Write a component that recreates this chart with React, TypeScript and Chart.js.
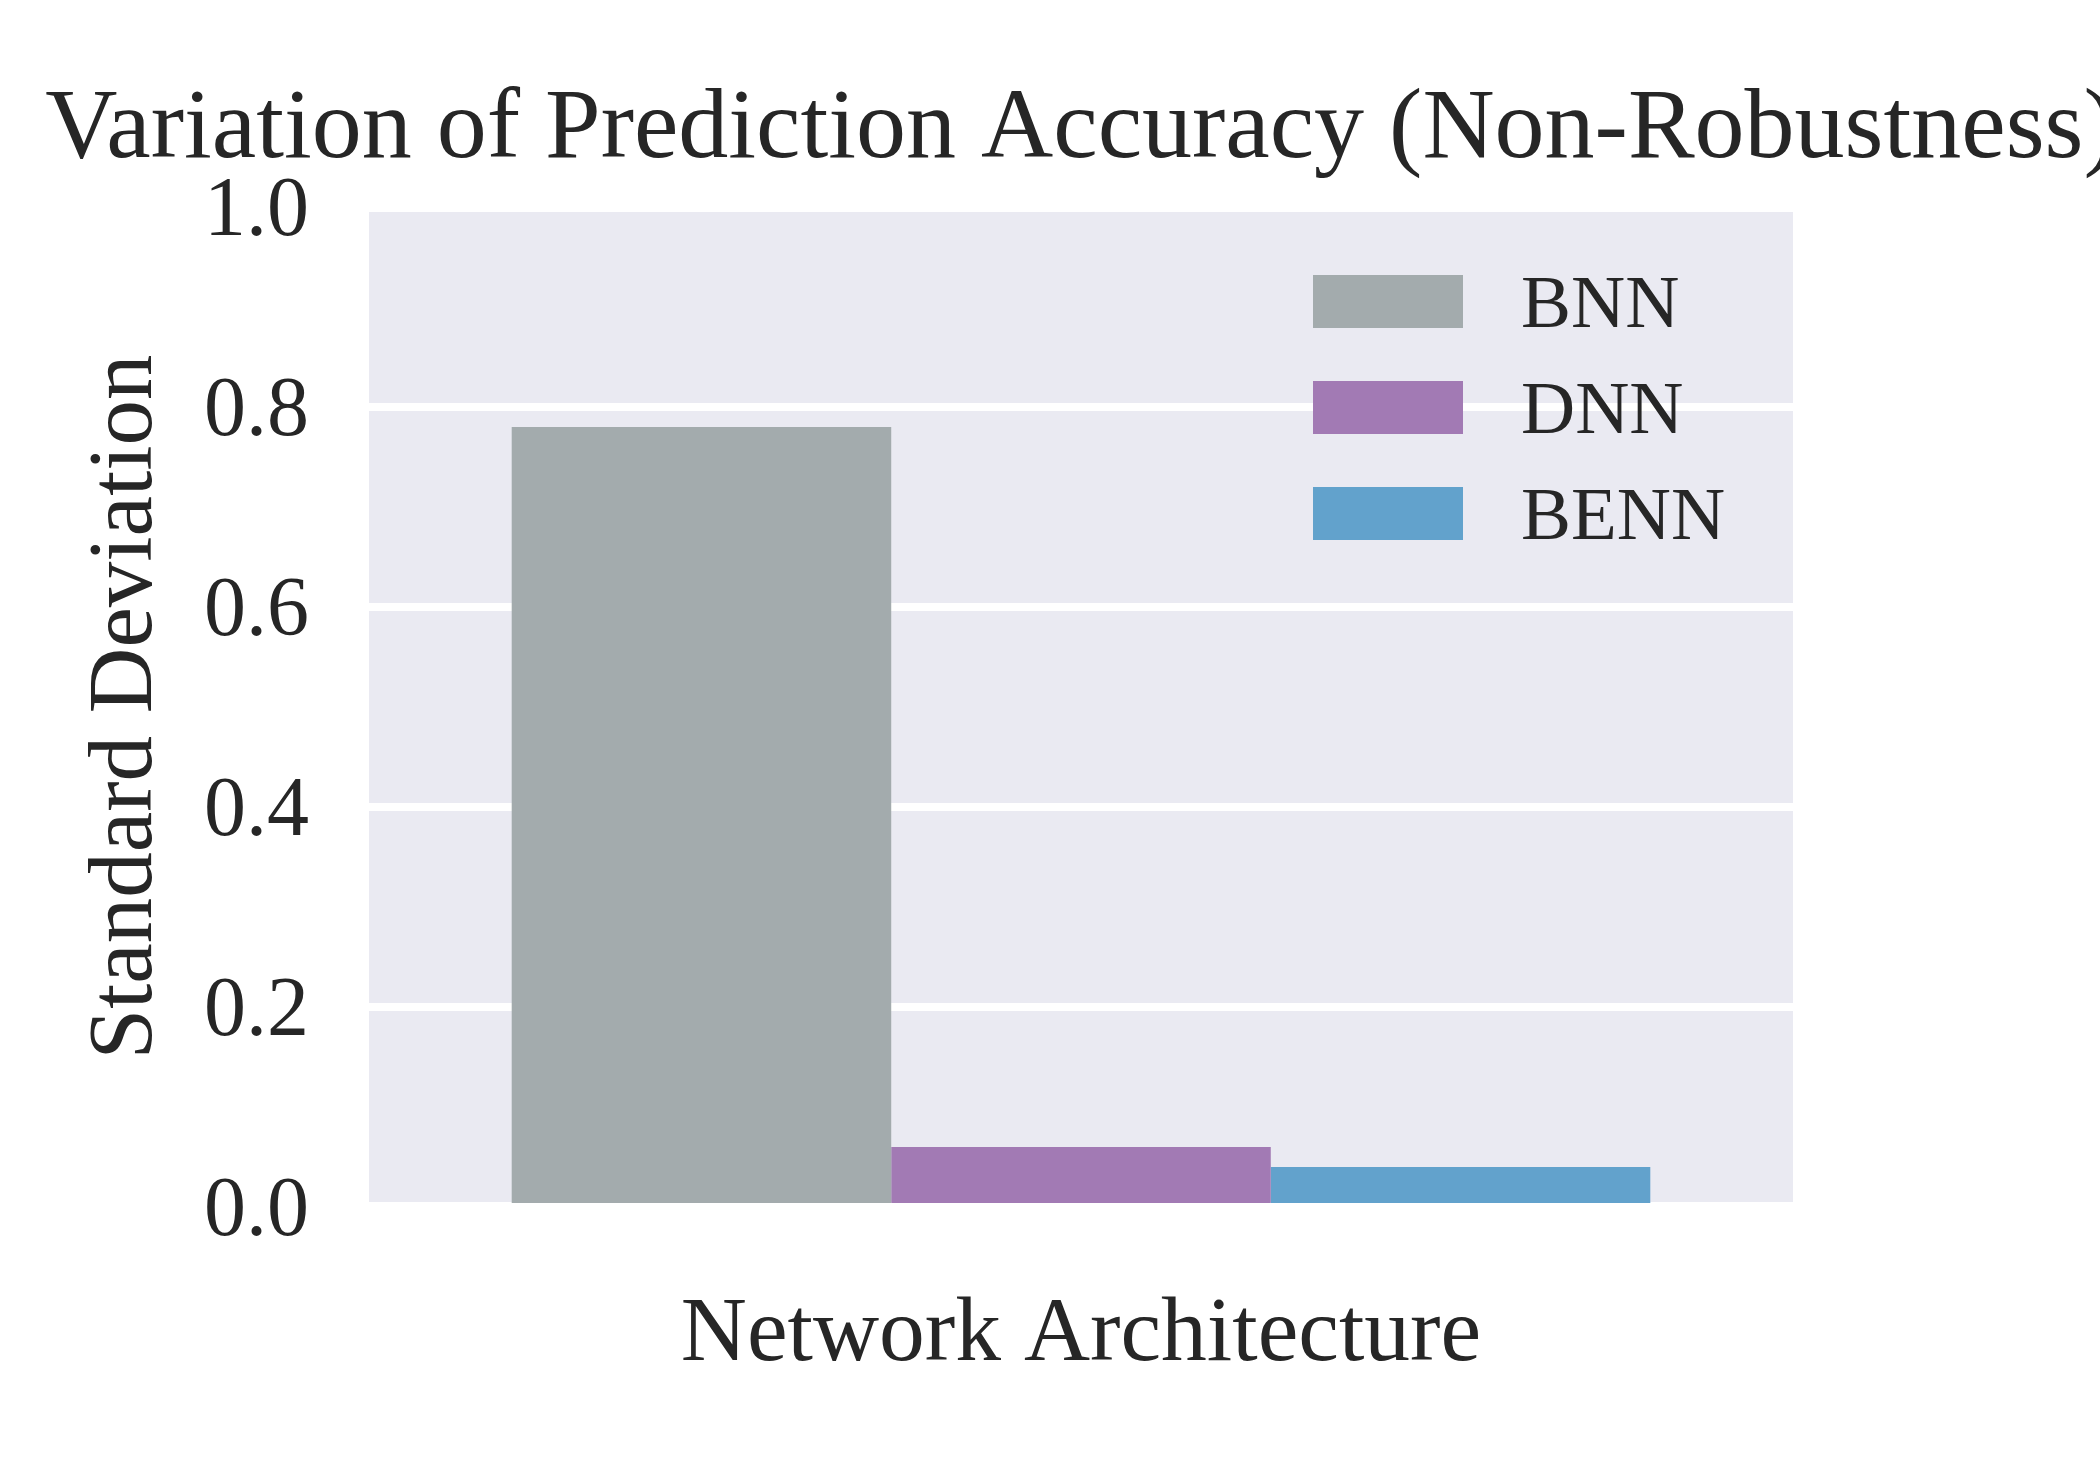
import { useEffect, useRef } from "react"
import { Chart, registerables, type ChartConfiguration, type Plugin } from "chart.js"

Chart.register(...registerables)

const categories = [""]
const seriesLabels = ["BNN", "DNN", "BENN"]
const bnnStd = [0.78]
const dnnStd = [0.06]
const bennStd = [0.04]
const yTickLabels = ["0.0", "0.2", "0.4", "0.6", "0.8", "1.0"]

const TITLE = "Variation of Prediction Accuracy (Non-Robustness)"
const X_LABEL = "Network Architecture"
const Y_LABEL = "Standard Deviation"

const barColors = ["#a3abad", "#a27ab4", "#62a2cc"]
const textColor = "#262626"
const panelColor = "#eaeaf2"
const serif = "'Liberation Serif', 'Times New Roman', Times, serif"

// lavender panel, inset a little where the white spines would sit
const panelBackground: Plugin<"bar"> = {
  id: "panelBackground",
  beforeDraw(chart) {
    const { ctx, chartArea: a } = chart
    ctx.save()
    ctx.fillStyle = panelColor
    ctx.fillRect(a.left + 5, a.top + 5, a.width - 10, a.height - 10)
    ctx.restore()
  },
}

// title centred over the axes, not over the canvas
const axesTitle: Plugin<"bar"> = {
  id: "axesTitle",
  afterDraw(chart) {
    const { ctx, chartArea: a } = chart
    ctx.save()
    ctx.font = `100px ${serif}`
    ctx.fillStyle = textColor
    ctx.textAlign = "center"
    ctx.textBaseline = "alphabetic"
    ctx.fillText(TITLE, (a.left + a.right) / 2, a.top - 50)
    ctx.restore()
  },
}

// legend sits inside the upper right of the axes
const insideLegend: Plugin<"bar"> = {
  id: "insideLegend",
  afterDatasetsDraw(chart) {
    const { ctx, chartArea: a } = chart
    ctx.save()
    ctx.font = `75px ${serif}`
    ctx.textAlign = "left"
    ctx.textBaseline = "alphabetic"
    chart.data.datasets.forEach((ds, i) => {
      const x = a.right - 485
      const y = a.top + 68 + i * 106
      ctx.fillStyle = ds.backgroundColor as string
      ctx.fillRect(x, y, 150, 53)
      ctx.fillStyle = textColor
      ctx.fillText(ds.label ?? "", x + 208, y + 52)
    })
    ctx.restore()
  },
}

function StdDevChart() {
  const chartRef = useRef<HTMLCanvasElement>(null)
  const chartInstance = useRef<Chart<"bar"> | null>(null)

  useEffect(() => {
    if (!chartRef.current) return
    const ctx = chartRef.current.getContext("2d")
    if (!ctx) return

    if (chartInstance.current) {
      chartInstance.current.destroy()
    }

    const values = [bnnStd, dnnStd, bennStd]

    const config: ChartConfiguration<"bar"> = {
      type: "bar",
      data: {
        labels: categories,
        datasets: seriesLabels.map((label, i) => ({
          label,
          data: values[i],
          backgroundColor: barColors[i],
          borderWidth: 0,
          categoryPercentage: 0.794,
          barPercentage: 1.0,
        })),
      },
      options: {
        responsive: true,
        maintainAspectRatio: false,
        animation: false,
        layout: { padding: { top: 207, right: 302, bottom: 0, left: 0 } },
        scales: {
          x: {
            grid: { display: false },
            border: { display: false },
            ticks: { display: false },
            title: {
              display: true,
              text: X_LABEL,
              color: textColor,
              font: { size: 91.5, family: serif },
              padding: { top: 0, bottom: 79 },
            },
            afterFit: (scale) => {
              scale.height = 263
            },
          },
          y: {
            min: 0,
            max: 1,
            ticks: {
              stepSize: 0.2,
              padding: 55,
              labelOffset: 6,
              color: textColor,
              font: { size: 84, family: serif },
              callback: (_value, index) => yTickLabels[index],
            },
            grid: { color: "#ffffff", lineWidth: 8, drawTicks: false },
            border: { display: false },
            title: {
              display: true,
              text: Y_LABEL,
              color: textColor,
              font: { size: 91, family: serif },
              padding: { top: 72, bottom: 0 },
            },
            afterFit: (scale) => {
              scale.width = 364
            },
          },
        },
        plugins: {
          legend: { display: false },
          title: { display: false },
          tooltip: { enabled: false },
        },
      },
      plugins: [panelBackground, axesTitle, insideLegend],
    }

    chartInstance.current = new Chart(ctx, config)

    return () => {
      if (chartInstance.current) {
        chartInstance.current.destroy()
        chartInstance.current = null
      }
    }
  }, [])

  return <canvas ref={chartRef} />
}

export default function App() {
  return (
    <div style={{ position: "fixed", left: 0, top: 0, width: 2100, height: 1470, background: "#ffffff" }}>
      <StdDevChart />
    </div>
  )
}
